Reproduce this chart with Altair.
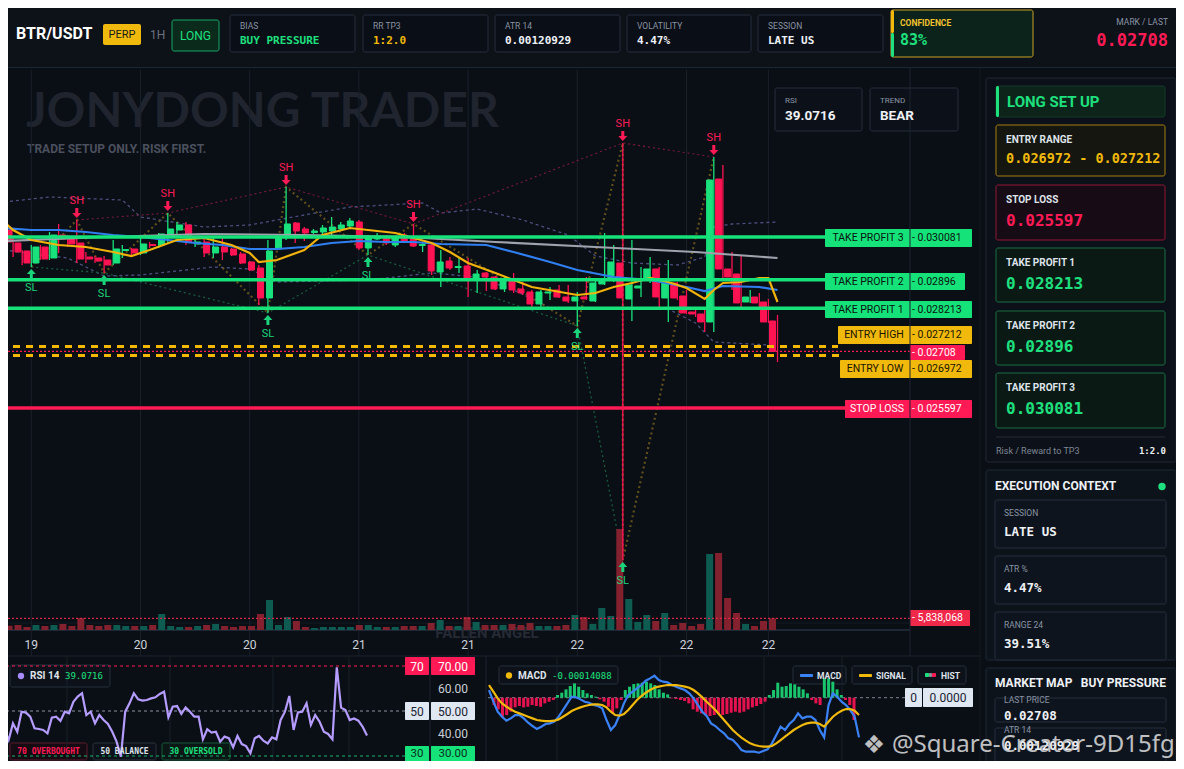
import altair as alt
import pandas as pd

OFF = 8
W, H = 1168, 753
BG = "#0a0e15"
SANS = "Roboto"
MONO = "DejaVu Sans Mono"
WMF = "Lato"

GREEN = "#1ee07f"
RED = "#ff1a55"
YEL = "#f0b90b"
WHITE = "#eef1f6"
MUTED = "#8a94a5"
C_UP = "#19e27c"
C_DN = "#ff1352"
V_UP = "#0e5b51"
V_DN = "#84212f"

# ---------------- 1H candles ----------------
OPEN = [0.030264, 0.029924, 0.029714, 0.029399, 0.029819, 0.029531, 0.030133, 0.030081, 0.029924, 0.029557,
        0.029531, 0.029478, 0.029399, 0.029727, 0.029766, 0.029662, 0.029885, 0.029871, 0.030133, 0.030264,
        0.030396, 0.029898, 0.029950, 0.029662, 0.029819, 0.029766, 0.029635, 0.029426, 0.029268, 0.028482,
        0.029766, 0.030133, 0.030448, 0.030291, 0.030199, 0.030212, 0.030238, 0.030291, 0.030369, 0.030474,
        0.029793, 0.030029, 0.030081, 0.029871, 0.030133, 0.030029, 0.029858, 0.029871, 0.029163, 0.029452,
        0.029281, 0.029321, 0.029006, 0.029137, 0.029032, 0.028718, 0.028980, 0.028718, 0.028639, 0.028325,
        0.028613, 0.028692, 0.028508, 0.028403, 0.028508, 0.028403, 0.028849, 0.028954, 0.029399, 0.028456,
        0.028744, 0.029006, 0.029242, 0.028482, 0.028875, 0.028534, 0.028115, 0.028062, 0.027853, 0.031602,
        0.029242, 0.029111, 0.028377, 0.028508, 0.028377, 0.027879]
HIGH = [0.030369, 0.030055, 0.029740, 0.029871, 0.029871, 0.030212, 0.030422, 0.030133, 0.030527, 0.029688,
        0.029583, 0.029583, 0.030002, 0.029871, 0.029793, 0.030055, 0.029950, 0.030186, 0.030710, 0.030474,
        0.030474, 0.030002, 0.030055, 0.030081, 0.030055, 0.029793, 0.029688, 0.029452, 0.029347, 0.030002,
        0.030133, 0.031392, 0.030474, 0.030343, 0.030291, 0.030396, 0.030605, 0.030474, 0.030579, 0.030527,
        0.030133, 0.030186, 0.030133, 0.030107, 0.030186, 0.030422, 0.029950, 0.029924, 0.029740, 0.029557,
        0.029531, 0.029531, 0.029216, 0.029163, 0.029059, 0.029032, 0.029137, 0.028901, 0.028692, 0.028692,
        0.028770, 0.028823, 0.028823, 0.028639, 0.029032, 0.029006, 0.030186, 0.029871, 0.032546, 0.030002,
        0.029295, 0.029557, 0.029295, 0.029478, 0.028901, 0.028692, 0.028167, 0.028167, 0.032179, 0.031969,
        0.029688, 0.029583, 0.028692, 0.028613, 0.028456, 0.028036]
LOW = [0.029845, 0.029557, 0.029347, 0.029295, 0.029478, 0.029478, 0.029662, 0.029819, 0.029399, 0.029399,
       0.029399, 0.029137, 0.029347, 0.029531, 0.029609, 0.029609, 0.029793, 0.029793, 0.029924, 0.030133,
       0.029871, 0.029819, 0.029557, 0.029531, 0.029478, 0.029583, 0.029373, 0.029190, 0.028298, 0.028089,
       0.029740, 0.030002, 0.029924, 0.029976, 0.030160, 0.030133, 0.030133, 0.030264, 0.030317, 0.029740,
       0.029609, 0.030002, 0.029871, 0.029819, 0.029924, 0.029819, 0.029688, 0.029085, 0.028770, 0.029216,
       0.029137, 0.028508, 0.028613, 0.028665, 0.028692, 0.028639, 0.028613, 0.028561, 0.028193, 0.028246,
       0.028429, 0.028482, 0.028351, 0.027748, 0.028429, 0.028377, 0.028823, 0.028901, 0.021612, 0.027879,
       0.028508, 0.028875, 0.028246, 0.027853, 0.028429, 0.028062, 0.027984, 0.027591, 0.027591, 0.028954,
       0.028692, 0.028220, 0.028351, 0.028246, 0.027826, 0.026804]
CLOSE = [0.029950, 0.029688, 0.029399, 0.029819, 0.029504, 0.030133, 0.030029, 0.029898, 0.029504, 0.029504,
         0.029452, 0.029347, 0.029766, 0.029753, 0.029662, 0.029898, 0.029858, 0.030160, 0.030291, 0.030396,
         0.029950, 0.029950, 0.029662, 0.029819, 0.029688, 0.029609, 0.029399, 0.029216, 0.028482, 0.029714,
         0.030055, 0.030422, 0.030238, 0.030186, 0.030238, 0.030317, 0.030343, 0.030396, 0.030500, 0.029793,
         0.030081, 0.030081, 0.029924, 0.030081, 0.029950, 0.029845, 0.029885, 0.029190, 0.029426, 0.029268,
         0.029308, 0.029006, 0.029111, 0.029032, 0.028718, 0.028980, 0.028692, 0.028613, 0.028325, 0.028639,
         0.028639, 0.028508, 0.028403, 0.028508, 0.028456, 0.028875, 0.028980, 0.029426, 0.028482, 0.028823,
         0.028796, 0.029242, 0.028508, 0.028954, 0.028482, 0.028089, 0.028062, 0.027853, 0.031575, 0.029242,
         0.029032, 0.028351, 0.028508, 0.028351, 0.027853, 0.027080]
VOLUME = [2170000, 2500000, 1500000, 2500000, 2000000, 2500000, 3000000, 2000000, 6000000, 2500000,
          2000000, 2500000, 2500000, 2000000, 2000000, 2000000, 2500000, 8000000, 2000000, 1500000,
          1500000, 2000000, 2500000, 3000000, 2000000, 1500000, 2000000, 2000000, 8000000, 15000000,
          2500000, 6500000, 4500000, 1500000, 1000000, 1500000, 1500000, 1500000, 1500000, 2500000,
          2500000, 1500000, 1500000, 1500000, 2000000, 2000000, 2000000, 3500000, 5000000, 2000000,
          2000000, 6500000, 4000000, 2500000, 2500000, 2500000, 3000000, 2500000, 3500000, 2000000,
          2000000, 2000000, 2500000, 7500000, 6500000, 3000000, 11000000, 7000000, 50500000, 15500000,
          4000000, 7500000, 4500000, 8500000, 2500000, 3500000, 2000000, 3000000, 38000000, 38500000,
          16000000, 8500000, 3000000, 2000000, 4500000, 5838068]

# moving averages / bands read at sample candles (index, price)
EMA_FAST_IDX = [0, 1, 3, 6, 9, 12, 14, 16, 19, 22, 25, 27, 28, 30, 33, 35, 38, 40, 43, 47,
                49, 51, 54, 58, 63, 65, 67, 69, 71, 73, 75, 77, 78, 79, 81, 83, 84, 85]
EMA_FAST = [0.030474, 0.030264, 0.030002, 0.029871, 0.029819, 0.029688, 0.029583, 0.029740, 0.030002, 0.030055,
            0.029871, 0.029662, 0.029426, 0.029478, 0.029740, 0.030133, 0.030317, 0.030264, 0.030186, 0.029924,
            0.029688, 0.029399, 0.029137, 0.028770, 0.028561, 0.028613, 0.028770, 0.028875, 0.029006, 0.028901,
            0.028744, 0.028456, 0.028692, 0.028875, 0.028901, 0.029006, 0.029006, 0.028377]
EMA_SLOW_IDX = [0, 3, 6, 9, 12, 15, 18, 21, 24, 27, 30, 33, 36, 39, 42, 45, 48, 53, 56, 60,
                63, 67, 71, 75, 77, 79, 83, 85]
EMA_SLOW = [0.030317, 0.030264, 0.030264, 0.030212, 0.030133, 0.030081, 0.030002, 0.029924, 0.029871, 0.029766,
            0.029766, 0.029819, 0.029924, 0.029976, 0.029950, 0.029950, 0.029898, 0.029871, 0.029688, 0.029426,
            0.029216, 0.029032, 0.028954, 0.028770, 0.028665, 0.028796, 0.028770, 0.028692]
SMA_IDX = [0, 11, 22, 33, 44, 54, 65, 76, 85]
SMA = [0.029976, 0.030081, 0.030160, 0.030133, 0.030081, 0.029950, 0.029819, 0.029688, 0.029531]
BB_UP_IDX = [0, 5, 13, 15, 22, 27, 33, 38, 46, 48, 52, 57, 62, 65, 69, 74, 77, 78, 80, 85]
BB_UP = [0.030999, 0.031130, 0.031051, 0.030605, 0.030343, 0.030396, 0.030658, 0.030867, 0.030972, 0.030710,
         0.030815, 0.030527, 0.030133, 0.029583, 0.029399, 0.029347, 0.029557, 0.030343, 0.030422, 0.030474]
BB_LO_IDX = [0, 7, 11, 15, 23, 27, 30, 40, 47, 52, 56, 60, 65, 73, 76, 78, 84, 85]
BB_LO = [0.029740, 0.029530, 0.029059, 0.029085, 0.029295, 0.029242, 0.028901, 0.028954, 0.029137, 0.029032,
         0.028692, 0.028219, 0.028219, 0.028193, 0.027826, 0.027328, 0.027250, 0.027066]

SH_IDX = [8, 18, 31, 45, 68, 78]
SL_IDX = [3, 11, 29, 40, 63, 68]

TIME_IDX = [3, 15, 27, 39, 51, 63, 75, 84]
TIME_LABELS = ["19", "20", "20", "21", "21", "22", "22", "22"]

TP3, TP2, TP1 = 0.030081, 0.02896, 0.028213
ENTRY_HIGH, ENTRY_LOW = 0.027212, 0.026972
STOP = 0.025597
LAST = 0.02708

RSI14 = [46.7, 41.6, 37.1, 44.5, 40.8, 49.7, 49.3, 47.5, 42.3, 42.0,
         41.6, 40.1, 47.0, 47.5, 45.6, 49.7, 49.0, 54.1, 56.4, 57.9,
         48.2, 49.7, 44.5, 48.2, 46.0, 44.2, 40.8, 36.4, 29.7, 49.7,
         53.4, 57.9, 55.2, 54.6, 54.9, 55.6, 56.1, 57.6, 58.6, 47.2,
         51.9, 52.2, 48.7, 51.6, 49.7, 47.5, 47.5, 37.4, 41.9, 40.4,
         40.8, 36.4, 38.6, 37.9, 33.9, 38.9, 35.3, 34.4, 31.2, 37.9,
         38.9, 36.8, 35.6, 38.3, 37.4, 46.0, 49.7, 56.7, 41.6, 49.4,
         49.7, 53.4, 43.8, 48.2, 45.3, 40.8, 39.8, 37.4, 69.4, 51.5,
         50.4, 46.0, 46.7, 45.7, 43.0, 39.0716]
RSI_LEVELS = [70, 50, 30]

# MACD values in millionths (x 1e-6)
MACD_E6 = [27.2, -14.2, -49.7, -67.5, -81.7, -73.4, -61.6, -61.6, -73.4, -88.8,
           -100.6, -111.3, -103.0, -93.5, -91.2, -85.2, -67.5, -43.8, -20.1, 3.6,
           1.2, -5.9, -14.2, -17.8, -26.0, -29.6, -37.9, -79.3, -114.8, -97.1,
           -61.6, -20.1, 9.5, 21.3, 33.2, 45.0, 60.4, 68.7, 78.1, 62.8,
           56.8, 54.5, 45.0, 39.1, 33.2, 27.2, 15.4, -2.4, -26.0, -49.7,
           -65.1, -91.2, -100.6, -114.8, -126.7, -144.4, -150.4, -165.8, -185.9, -191.8,
           -191.8, -191.8, -195.4, -189.4, -183.5, -162.2, -132.6, -103.0, -114.8, -93.5,
           -79.3, -55.6, -73.4, -67.5, -67.5, -79.3, -114.8, -140.9, -26.0, 15.4,
           3.6, -14.2, -26.0, -43.8, -67.5, -140.88]
SIGNAL_E6 = [45.0, 21.3, -2.4, -20.1, -32.0, -41.4, -49.7, -55.6, -61.6, -67.5,
             -73.4, -79.3, -81.7, -82.9, -82.9, -81.7, -77.0, -67.5, -58.0, -47.4,
             -40.3, -34.3, -29.6, -26.0, -23.7, -23.7, -26.0, -34.3, -49.7, -61.6,
             -63.9, -58.0, -43.8, -26.0, -8.3, 5.9, 17.8, 27.2, 35.5, 39.1,
             42.6, 45.0, 45.0, 45.0, 42.6, 39.1, 35.5, 27.2, 15.4, 1.2,
             -14.2, -28.4, -43.8, -61.6, -79.3, -97.1, -114.8, -129.1, -142.1, -152.7,
             -162.2, -168.1, -171.7, -174.0, -174.0, -171.7, -162.2, -150.4, -138.5, -126.7,
             -114.8, -105.4, -97.1, -91.2, -88.8, -88.8, -93.5, -103.0, -85.2, -67.5,
             -55.6, -46.2, -40.3, -40.3, -46.2, -61.6]
HIST_E6 = [-26.0, -41.4, -67.5, -61.6, -49.7, -34.3, -29.6, -34.3, -32.0, -26.0,
           -29.6, -32.0, -20.1, -14.2, -8.3, 9.5, 17.8, 29.6, 41.4, 50.9,
           39.1, 27.2, 15.4, 9.5, 3.6, -5.9, -14.2, -32.0, -55.6, -37.9,
           -8.3, 27.2, 39.1, 48.5, 50.9, 53.3, 56.8, 50.9, 45.0, 29.6,
           17.8, 11.8, -2.4, -4.7, -8.3, -11.8, -20.1, -41.4, -49.7, -55.6,
           -61.6, -65.1, -61.6, -58.0, -61.6, -58.0, -53.3, -49.7, -53.3, -49.7,
           -41.4, -34.3, -29.6, -22.5, -14.2, 9.5, 27.2, 53.3, 39.1, 41.4,
           50.9, 47.4, 39.1, 29.6, 15.4, -8.3, -20.1, -26.0, 68.7, 68.7,
           56.8, 29.6, 9.5, -8.3, -26.0, -79.3]

N = len(CLOSE)
IDX = list(range(N))

# ---------------- scales (plot pixels = page pixels - 8) ----------------
XC = alt.Scale(domain=[0, N - 1], range=[4 - OFF, 777.5 - OFF], nice=False, zero=False)
YP = alt.Scale(domain=[0.019776, 0.034460], range=[630 - OFF, 70 - OFF], nice=False, zero=False)
YV = alt.Scale(domain=[0, 60000000], range=[630 - OFF, 510 - OFF], nice=False, zero=False)
XR = alt.Scale(domain=[0, N - 1], range=[0 - OFF, 367 - OFF], nice=False, zero=False)
YR = alt.Scale(domain=[30, 70], range=[756 - OFF, 666 - OFF], nice=False, zero=False)
XM = alt.Scale(domain=[0, N - 1], range=[489 - OFF, 859 - OFF], nice=False, zero=False)
YM = alt.Scale(domain=[-200, 100], range=[754.0 - OFF, 669.55 - OFF], nice=False, zero=False)


def ex(f, s):
    return alt.X(f, type="quantitative", scale=s, axis=None)


def ey(f, s):
    return alt.Y(f, type="quantitative", scale=s, axis=None)


def pxx(f):
    return alt.X(f, type="quantitative", scale=None, axis=None)


def pxy(f):
    return alt.Y(f, type="quantitative", scale=None, axis=None)


def rect_layer(rows, radius=2):
    df = pd.DataFrame(rows, columns=["x", "y", "x2", "y2", "f", "s", "w"])
    for c in ["x", "y", "x2", "y2"]:
        df[c] = df[c] - OFF
    return alt.Chart(df).mark_rect(cornerRadius=radius).encode(
        x=pxx("x"), x2="x2:Q", y=pxy("y"), y2="y2:Q",
        fill=alt.Fill("f:N", scale=None),
        stroke=alt.Stroke("s:N", scale=None),
        strokeWidth=alt.StrokeWidth("w:Q", scale=None))


def rule_layer(rows, dash=None):
    df = pd.DataFrame(rows, columns=["x", "y", "x2", "y2", "c", "w"])
    for c in ["x", "y", "x2", "y2"]:
        df[c] = df[c] - OFF
    m = alt.Chart(df).mark_rule(strokeDash=dash) if dash else alt.Chart(df).mark_rule()
    return m.encode(x=pxx("x"), x2="x2:Q", y=pxy("y"), y2="y2:Q",
                    color=alt.Color("c:N", scale=None),
                    strokeWidth=alt.StrokeWidth("w:Q", scale=None))


def text_layers(rows, opacity=1.0):
    groups = {}
    for r in rows:
        groups.setdefault((r[5], r[6], r[7]), []).append(r[:5])
    out = []
    for (font, weight, align), items in groups.items():
        df = pd.DataFrame(items, columns=["x", "y", "t", "c", "s"])
        df["x"] = df["x"] - OFF
        df["y"] = df["y"] - OFF
        out.append(alt.Chart(df).mark_text(font=font, fontWeight=weight, align=align,
                                           baseline="middle", opacity=opacity).encode(
            x=pxx("x"), y=pxy("y"), text="t:N",
            color=alt.Color("c:N", scale=None), size=alt.Size("s:Q", scale=None)))
    return out


def dot_layer(rows):
    df = pd.DataFrame(rows, columns=["x", "y", "c", "s"])
    df["x"] = df["x"] - OFF
    df["y"] = df["y"] - OFF
    return alt.Chart(df).mark_circle(opacity=1).encode(
        x=pxx("x"), y=pxy("y"), color=alt.Color("c:N", scale=None), size=alt.Size("s:Q", scale=None))


CARD_F, CARD_S = "#0a0e16", "#262f3c"
PAN_F, PAN_S = "#0c1119", "#1f2935"
IN_F, IN_S = "#0e141d", "#252f3d"

BG_RECTS = [
    (0, 0, 1184, 67, "#0d1118", "#0d1118", 0),
    (230, 15, 355, 52, CARD_F, CARD_S, 1), (363, 15, 488, 52, CARD_F, CARD_S, 1),
    (495, 15, 620, 52, CARD_F, CARD_S, 1), (627, 15, 751, 52, CARD_F, CARD_S, 1),
    (758, 15, 883, 52, CARD_F, CARD_S, 1),
    (103, 24, 141, 45, YEL, YEL, 0),
    (172, 20, 219, 51, "#0a2a1c", "#17a864", 1),
    (891, 10, 1033, 57, "#0b231a", "#c9a227", 1),
    (891, 10, 894, 33, YEL, YEL, 0), (891, 33, 894, 57, GREEN, GREEN, 0),
    (775, 88, 862, 131, PAN_F, CARD_S, 1), (870, 88, 958, 131, PAN_F, CARD_S, 1),
    (986, 78, 1176, 462, PAN_F, PAN_S, 1),
    (996, 86, 1165, 117, "#0c2419", "#123b29", 1), (996, 86, 999, 117, GREEN, GREEN, 0),
    (996, 125, 1165, 176, "#14160f", "#a47f12", 1),
    (996, 185, 1165, 240, "#170c15", "#931735", 1),
    (996, 248, 1165, 302, "#0b1915", "#1a6e46", 1),
    (996, 311, 1165, 365, "#0b1915", "#1a6e46", 1),
    (996, 373, 1165, 428, "#0b1915", "#1a6e46", 1),
    (986, 470, 1176, 660, "#0d131b", PAN_S, 1),
    (995, 500, 1166, 548, IN_F, IN_S, 1), (995, 556, 1166, 604, IN_F, IN_S, 1),
    (995, 612, 1166, 660, IN_F, IN_S, 1),
    (986, 668, 1176, 775, "#0d131b", PAN_S, 1),
    (995, 698, 1166, 722, IN_F, IN_S, 1), (995, 728, 1166, 762, IN_F, IN_S, 1),
    (10, 665, 110, 687, "#0d121a", "#252e3b", 1),
    (10, 743, 87, 760, "#150c13", "#5c1a2c", 1),
    (93, 743, 156, 760, "#0d121a", "#2b323d", 1),
    (162, 743, 230, 760, "#0b1714", "#175a3b", 1),
    (499, 666, 618, 684, "#0d121a", "#252e3b", 1),
    (793, 666, 846, 684, "#0d121a", "#252e3b", 1),
    (852, 666, 912, 684, "#0d121a", "#252e3b", 1),
    (918, 666, 966, 684, "#0d121a", "#252e3b", 1),
]

GRID = "#19202a"
SEP = "#1c2532"
GRID_RULES = [
    (0, 67.5, 1184, 67.5, SEP, 1),
    (0, 656, 980, 656, SEP, 1),
    (0, 623, 910, 623, "#151b24", 1),
    (0, 630, 910, 630, "#263040", 1.5),
    (486, 656, 486, 769, SEP, 1),
    (980, 68, 980, 769, "#151b24", 1),
    (430, 657, 430, 769, SEP, 1),
    (67, 657, 67, 769, GRID, 1), (170, 657, 170, 769, GRID, 1),
    (273, 657, 273, 769, GRID, 1), (349, 657, 349, 769, GRID, 1),
    (557, 657, 557, 769, GRID, 1), (660, 657, 660, 769, GRID, 1),
    (764, 657, 764, 769, GRID, 1), (842, 657, 842, 769, GRID, 1),
    (996, 437, 1165, 437, "#222c39", 1),
]

FG_RECTS = [
    (825, 229, 972, 247, "#16e27a", "#16e27a", 0),
    (825, 273, 965, 290, "#16e27a", "#16e27a", 0),
    (825, 301, 972, 318, "#16e27a", "#16e27a", 0),
    (838, 326, 972, 344, YEL, YEL, 0),
    (840, 360, 972, 378, YEL, YEL, 0),
    (910, 345, 965, 360, RED, RED, 0),
    (845, 400, 972, 418, RED, RED, 0),
    (910, 610, 970, 626, "#f0284a", "#f0284a", 0),
    (405, 657, 429, 675, RED, RED, 0), (431, 657, 475, 675, RED, RED, 0),
    (405, 702, 429, 720, "#dfe7f2", "#dfe7f2", 0), (431, 702, 475, 720, "#dfe7f2", "#dfe7f2", 0),
    (405, 746, 429, 764, "#16e27a", "#16e27a", 0), (431, 746, 475, 764, "#16e27a", "#16e27a", 0),
    (905, 688, 922, 707, "#dfe7f2", "#dfe7f2", 0), (923, 688, 973, 707, "#dfe7f2", "#dfe7f2", 0),
    (800, 674, 813, 677, "#3b82f6", "#3b82f6", 0),
    (859, 674, 872, 677, YEL, YEL, 0),
    (925, 673, 929, 677, GREEN, GREEN, 0), (929, 673, 932, 677, "#8a8f98", "#8a8f98", 0),
    (932, 673, 936, 677, RED, RED, 0),
]
OVER_RULES = [(910, 68, 910, 656, "#1c2430", 1)]

DARK_G = "#07130c"
DARK_Y = "#1a1400"
TEXT_UNDER = [
    (26, 113, "JONYDONG TRADER", "#1f242e", 48, WMF, "bold", "left"),
    (27, 149, "TRADE SETUP ONLY. RISK FIRST.", "#4a505d", 12, SANS, "bold", "left"),
    (487, 633, "FALLEN ANGEL", "#252a34", 15, SANS, "bold", "center"),
]
TEXT_OVER = [
    (16, 34, "BTR/USDT", "#ffffff", 16, SANS, "bold", "left"),
    (122, 34.5, "PERP", "#1a1a1a", 11, SANS, "normal", "center"),
    (150, 34.5, "1H", "#6b7280", 12, SANS, "normal", "left"),
    (195.5, 35.5, "LONG", GREEN, 12, SANS, "normal", "center"),
    (240, 26, "BIAS", MUTED, 8.5, SANS, "normal", "left"),
    (373, 26, "RR TP3", MUTED, 8.5, SANS, "normal", "left"),
    (505, 26, "ATR 14", MUTED, 8.5, SANS, "normal", "left"),
    (637, 26, "VOLATILITY", MUTED, 8.5, SANS, "normal", "left"),
    (768, 26, "SESSION", MUTED, 8.5, SANS, "normal", "left"),
    (240, 41, "BUY PRESSURE", GREEN, 11, MONO, "bold", "left"),
    (373, 41, "1:2.0", YEL, 11, MONO, "bold", "left"),
    (505, 41, "0.00120929", WHITE, 11, MONO, "bold", "left"),
    (637, 41, "4.47%", WHITE, 11, MONO, "bold", "left"),
    (768, 41, "LATE US", WHITE, 11, MONO, "bold", "left"),
    (900, 23, "CONFIDENCE", "#f2c230", 8.5, SANS, "bold", "left"),
    (900, 40, "83%", GREEN, 15, MONO, "bold", "left"),
    (1168, 22, "MARK / LAST", MUTED, 8.5, SANS, "normal", "right"),
    (1168, 41, "0.02708", RED, 17, MONO, "bold", "right"),
    (785, 101, "RSI", MUTED, 8, SANS, "normal", "left"),
    (785, 116, "39.0716", WHITE, 13.5, SANS, "bold", "left"),
    (880, 101, "TREND", MUTED, 8, SANS, "normal", "left"),
    (880, 116, "BEAR", WHITE, 13.5, SANS, "bold", "left"),
    (868, 238, "TAKE PROFIT 3", DARK_G, 10.5, SANS, "normal", "center"),
    (868, 281.5, "TAKE PROFIT 2", DARK_G, 10.5, SANS, "normal", "center"),
    (868, 309.5, "TAKE PROFIT 1", DARK_G, 10.5, SANS, "normal", "center"),
    (874, 335, "ENTRY HIGH", DARK_Y, 10.5, SANS, "normal", "center"),
    (875, 369, "ENTRY LOW", DARK_Y, 10.5, SANS, "normal", "center"),
    (877, 409, "STOP LOSS", "#ffffff", 10.5, SANS, "normal", "center"),
    (912, 238, "- 0.030081", DARK_G, 10.5, SANS, "normal", "left"),
    (912, 281.5, "- 0.02896", DARK_G, 10.5, SANS, "normal", "left"),
    (912, 309.5, "- 0.028213", DARK_G, 10.5, SANS, "normal", "left"),
    (912, 335, "- 0.027212", DARK_Y, 10.5, SANS, "normal", "left"),
    (912, 352.5, "- 0.02708", "#ffffff", 10.5, SANS, "normal", "left"),
    (912, 369, "- 0.026972", DARK_Y, 10.5, SANS, "normal", "left"),
    (912, 409, "- 0.025597", "#ffffff", 10.5, SANS, "normal", "left"),
    (912, 618, "- 5,838,068", "#ffffff", 10.5, SANS, "normal", "left"),
    (30, 676, "RSI 14", "#dfe3ea", 10, SANS, "bold", "left"),
    (65, 676, "39.0716", GREEN, 9, MONO, "normal", "left"),
    (48.5, 752, "70 OVERBOUGHT", RED, 8, MONO, "bold", "center"),
    (124.5, 752, "50 BALANCE", "#dfe3ea", 8, MONO, "bold", "center"),
    (196, 752, "30 OVERSOLD", GREEN, 8, MONO, "bold", "center"),
    (417, 666.5, "70", "#ffffff", 12, SANS, "normal", "center"),
    (453, 666.5, "70.00", "#ffffff", 12, SANS, "normal", "center"),
    (453, 689, "60.00", "#c9ced6", 12, SANS, "normal", "center"),
    (417, 711.5, "50", "#1b2230", 12, SANS, "normal", "center"),
    (453, 711.5, "50.00", "#1b2230", 12, SANS, "normal", "center"),
    (453, 734, "40.00", "#c9ced6", 12, SANS, "normal", "center"),
    (417, 753.5, "30", "#06301b", 11.5, SANS, "normal", "center"),
    (453, 753.5, "30.00", "#06301b", 11.5, SANS, "normal", "center"),
    (518, 675.5, "MACD", "#dfe3ea", 10, SANS, "bold", "left"),
    (552, 675.5, "-0.00014088", GREEN, 9, MONO, "normal", "left"),
    (817, 675.5, "MACD", "#dfe3ea", 8.5, SANS, "bold", "left"),
    (876, 675.5, "SIGNAL", "#dfe3ea", 8.5, SANS, "bold", "left"),
    (941, 675.5, "HIST", "#dfe3ea", 8.5, SANS, "bold", "left"),
    (913.5, 697.5, "0", "#1b2230", 12, SANS, "normal", "center"),
    (948, 697.5, "0.0000", "#1b2230", 12, SANS, "normal", "center"),
    (1007, 102, "LONG SET UP", GREEN, 15, SANS, "bold", "left"),
    (1006, 140, "ENTRY RANGE", "#dfe3ea", 10, SANS, "bold", "left"),
    (1006, 159, "0.026972 - 0.027212", YEL, 13.5, MONO, "bold", "left"),
    (1006, 200, "STOP LOSS", "#dfe3ea", 10, SANS, "bold", "left"),
    (1006, 221, "0.025597", RED, 16, MONO, "bold", "left"),
    (1006, 263, "TAKE PROFIT 1", "#dfe3ea", 10, SANS, "bold", "left"),
    (1006, 284, "0.028213", GREEN, 16, MONO, "bold", "left"),
    (1006, 326, "TAKE PROFIT 2", "#dfe3ea", 10, SANS, "bold", "left"),
    (1006, 347, "0.02896", GREEN, 16, MONO, "bold", "left"),
    (1006, 388, "TAKE PROFIT 3", "#dfe3ea", 10, SANS, "bold", "left"),
    (1006, 409, "0.030081", GREEN, 16, MONO, "bold", "left"),
    (996, 451, "Risk / Reward to TP3", "#7e8795", 9, SANS, "normal", "left"),
    (1166, 451, "1:2.0", WHITE, 9, MONO, "bold", "right"),
    (995, 486, "EXECUTION CONTEXT", WHITE, 12, SANS, "bold", "left"),
    (1004, 513, "SESSION", MUTED, 8.5, SANS, "normal", "left"),
    (1004, 532, "LATE US", WHITE, 12.5, MONO, "bold", "left"),
    (1004, 569, "ATR %", MUTED, 8.5, SANS, "normal", "left"),
    (1004, 588, "4.47%", WHITE, 12.5, MONO, "bold", "left"),
    (1004, 625, "RANGE 24", MUTED, 8.5, SANS, "normal", "left"),
    (1004, 644, "39.51%", WHITE, 12.5, MONO, "bold", "left"),
    (995, 683, "MARKET MAP", WHITE, 12, SANS, "bold", "left"),
    (1166, 683, "BUY PRESSURE", WHITE, 12, SANS, "bold", "right"),
    (1004, 700, "LAST PRICE", MUTED, 8.5, SANS, "normal", "left"),
    (1004, 716, "0.02708", WHITE, 12.5, MONO, "bold", "left"),
    (1004, 730, "ATR 14", MUTED, 8.5, SANS, "normal", "left"),
    (1004, 746, "0.00120929", WHITE, 12.5, MONO, "bold", "left"),
]
TEXT_WATERMARK = [
    (874, 745, "\u2756", "#e6e6e6", 25, "DejaVu Sans", "normal", "center"),
    (892, 745, "@Square-Creator-9D15fg", "#e6e6e6", 24, "Noto Sans", "normal", "left"),
]
DOTS = [(1162, 486.5, GREEN, 55), (21, 676, "#a78bfa", 40), (509, 675.5, YEL, 40)]

# ---------------- data frames ----------------
up = [c >= o for o, c in zip(OPEN, CLOSE)]
cd = pd.DataFrame({"i": IDX, "o": OPEN, "h": HIGH, "l": LOW, "c": CLOSE, "v": VOLUME})
cd["col"] = [C_UP if u else C_DN for u in up]
cd["vcol"] = [V_UP if u else V_DN for u in up]
cd["z"] = 0

layers = []
layers.append(rect_layer(BG_RECTS))
layers.append(rule_layer(GRID_RULES))
layers += text_layers(TEXT_UNDER)

tdf = pd.DataFrame({"i": TIME_IDX, "lab": TIME_LABELS})
layers.append(alt.Chart(tdf).mark_rule(color=GRID, strokeWidth=1).encode(
    x=ex("i", XC), y=alt.value(70 - OFF), y2=alt.value(656 - OFF)))

# bands
for ix, vals in [(BB_UP_IDX, BB_UP), (BB_LO_IDX, BB_LO)]:
    layers.append(alt.Chart(pd.DataFrame({"i": ix, "p": vals})).mark_line(
        color="#4b4f7d", strokeWidth=1.3, strokeDash=[3, 3]).encode(x=ex("i", XC), y=ey("p", YP)))

# swing structure lines
sh_df = pd.DataFrame({"i": SH_IDX, "p": [HIGH[i] for i in SH_IDX]})
sl_df = pd.DataFrame({"i": SL_IDX, "p": [LOW[i] for i in SL_IDX]})
layers.append(alt.Chart(sh_df).mark_line(color="#7a1c3c", strokeWidth=1.1, strokeDash=[2, 3]).encode(
    x=ex("i", XC), y=ey("p", YP)))
layers.append(alt.Chart(sl_df).mark_line(color="#185c3d", strokeWidth=1.3, strokeDash=[2, 3]).encode(
    x=ex("i", XC), y=ey("p", YP)))
zz = sorted([(i, 0, HIGH[i]) for i in SH_IDX] + [(i, 1, LOW[i]) for i in SL_IDX])
zz_df = pd.DataFrame({"i": [a[0] for a in zz], "p": [a[2] for a in zz], "k": list(range(len(zz)))})
layers.append(alt.Chart(zz_df).mark_line(color="#6d5a1d", strokeWidth=2.2, strokeDash=[2, 3], opacity=0.85).encode(
    x=ex("i", XC), y=ey("p", YP), order="k:Q"))

# volume
layers.append(alt.Chart(cd).mark_bar(size=7).encode(
    x=ex("i", XC), y=ey("v", YV), y2="z:Q", color=alt.Color("vcol:N", scale=None)))
layers.append(alt.Chart(pd.DataFrame({"v": [VOLUME[-1]], "x0": [0 - OFF], "x1": [910 - OFF]})).mark_rule(
    color="#d8264a", strokeWidth=1.2, strokeDash=[2, 2]).encode(x=pxx("x0"), x2="x1:Q", y=ey("v", YV)))

# candles
layers.append(alt.Chart(cd).mark_rule(strokeWidth=1.3).encode(
    x=ex("i", XC), y=ey("l", YP), y2="h:Q", color=alt.Color("col:N", scale=None)))
layers.append(alt.Chart(cd).mark_bar(size=6, strokeWidth=1).encode(
    x=ex("i", XC), y=ey("o", YP), y2="c:Q",
    color=alt.Color("col:N", scale=None), stroke=alt.Stroke("col:N", scale=None)))

# moving averages
for ix, vals, col in [(SMA_IDX, SMA, "#9ea3ad"), (EMA_SLOW_IDX, EMA_SLOW, "#2f7ff0"),
                      (EMA_FAST_IDX, EMA_FAST, "#f0b20b")]:
    layers.append(alt.Chart(pd.DataFrame({"i": ix, "p": vals})).mark_line(
        color=col, strokeWidth=2.2).encode(x=ex("i", XC), y=ey("p", YP)))

# levels
solid = pd.DataFrame({"p": [TP3, TP2, TP1, STOP], "x0": [0 - OFF] * 4,
                      "x1": [825 - OFF, 825 - OFF, 825 - OFF, 845 - OFF],
                      "c": ["#16e27a", "#16e27a", "#16e27a", RED]})
layers.append(alt.Chart(solid).mark_rule(strokeWidth=3.5).encode(
    x=pxx("x0"), x2="x1:Q", y=ey("p", YP), color=alt.Color("c:N", scale=None)))
entry = pd.DataFrame({"p": [ENTRY_HIGH, ENTRY_LOW], "x0": [0 - OFF] * 2, "x1": [838 - OFF, 840 - OFF]})
layers.append(alt.Chart(entry).mark_rule(strokeWidth=3, strokeDash=[7, 6], color="#f5b800").encode(
    x=pxx("x0"), x2="x1:Q", y=ey("p", YP)))
layers.append(alt.Chart(pd.DataFrame({"p": [LAST], "x0": [0 - OFF], "x1": [910 - OFF]})).mark_rule(
    strokeWidth=1.3, strokeDash=[2, 2], color=RED).encode(x=pxx("x0"), x2="x1:Q", y=ey("p", YP)))

# swing markers
DOWN = "M -0.3 -2.4 L 0.3 -2.4 L 0.3 -1.4 L 0.9 -1.4 L 0 -0.4 L -0.9 -1.4 L -0.3 -1.4 Z"
UPA = "M -0.3 2.4 L 0.3 2.4 L 0.3 1.4 L 0.9 1.4 L 0 0.4 L -0.9 1.4 L -0.3 1.4 Z"
layers.append(alt.Chart(sh_df).mark_point(shape=DOWN, size=100, filled=True, opacity=1, color=RED, strokeWidth=0).encode(
    x=ex("i", XC), y=ey("p", YP)))
layers.append(alt.Chart(sh_df).mark_text(dy=-19, font=SANS, fontSize=11, color=RED).encode(
    x=ex("i", XC), y=ey("p", YP), text=alt.value("SH")))
layers.append(alt.Chart(sl_df).mark_point(shape=UPA, size=100, filled=True, opacity=1, color="#19d47a", strokeWidth=0).encode(
    x=ex("i", XC), y=ey("p", YP)))
layers.append(alt.Chart(sl_df).mark_text(dy=21, font=SANS, fontSize=11, color="#19d47a").encode(
    x=ex("i", XC), y=ey("p", YP), text=alt.value("SL")))

# time labels
layers.append(alt.Chart(tdf).mark_text(font=SANS, fontSize=12, color="#cfd4dc", baseline="middle").encode(
    x=ex("i", XC), y=alt.value(645 - OFF), text="lab:N"))

# RSI panel
rl = pd.DataFrame({"r": RSI_LEVELS, "c": [RED, "#8c95a3", "#15b46c"], "x0": [0 - OFF] * 3, "x1": [405 - OFF] * 3})
layers.append(alt.Chart(rl).mark_rule(strokeDash=[3, 3], strokeWidth=1).encode(
    x=pxx("x0"), x2="x1:Q", y=ey("r", YR), color=alt.Color("c:N", scale=None)))
layers.append(alt.Chart(pd.DataFrame({"i": IDX, "r": RSI14})).mark_line(color="#b59cff", strokeWidth=2.2).encode(
    x=ex("i", XR), y=ey("r", YR)))

# MACD panel
md = pd.DataFrame({"i": IDX, "m": MACD_E6, "s": SIGNAL_E6, "h": HIST_E6, "z": 0})
md["hc"] = ["#19c56d" if v >= 0 else "#e5124f" for v in HIST_E6]
layers.append(alt.Chart(pd.DataFrame({"v": [0], "x0": [488 - OFF], "x1": [905 - OFF]})).mark_rule(
    color="#7d8694", strokeDash=[3, 3], strokeWidth=1).encode(x=pxx("x0"), x2="x1:Q", y=ey("v", YM)))
layers.append(alt.Chart(md).mark_bar(size=3).encode(
    x=ex("i", XM), y=ey("h", YM), y2="z:Q", color=alt.Color("hc:N", scale=None)))
layers.append(alt.Chart(md).mark_line(color="#3b82f6", strokeWidth=2.2).encode(x=ex("i", XM), y=ey("m", YM)))
layers.append(alt.Chart(md).mark_line(color="#f0b90b", strokeWidth=2.2).encode(x=ex("i", XM), y=ey("s", YM)))

# overlays
layers.append(rect_layer(FG_RECTS, radius=1))
layers.append(rule_layer(OVER_RULES))
layers.append(dot_layer(DOTS))
layers += text_layers(TEXT_OVER)
layers += text_layers(TEXT_WATERMARK, opacity=0.82)

chart = alt.layer(*layers).resolve_scale(x="independent", y="independent").properties(
    width=W, height=H, padding=0, autosize=alt.AutoSizeParams(type="none"), background=BG
).configure_view(strokeWidth=0)

chart.save("out.html", embed_options={"renderer": "svg", "actions": False})
